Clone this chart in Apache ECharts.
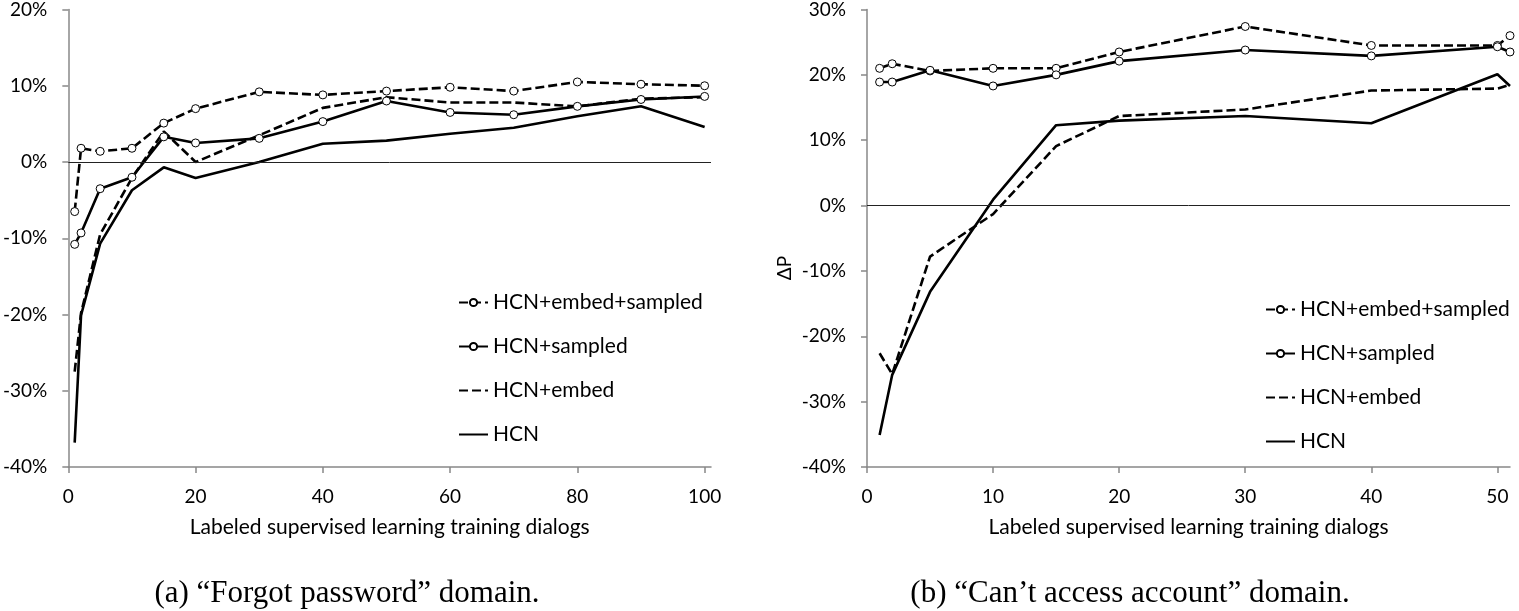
<!DOCTYPE html>
<html><head><meta charset="utf-8">
<script src="https://cdn.jsdelivr.net/npm/echarts@6/dist/echarts.min.js"></script>
<style>html,body{margin:0;padding:0;background:#fff}#c{width:1519px;height:611px}</style>
</head><body><div id="c"></div>
<script>
// Chart (a) Forgot password
const xA = [1,2,5,10,15,20,30,40,50,60,70,80,90,100];
const a_embedSampled = [-6.5,1.8,1.4,1.8,5.1,7.0,9.2,8.8,9.3,9.8,9.3,10.5,10.2,10.0];
const a_sampled      = [-10.8,-9.3,-3.5,-2.0,3.3,2.5,3.1,5.3,8.0,6.5,6.2,7.3,8.2,8.6];
const a_embed        = [-27.5,-19.8,-9.5,-2.1,4.0,0.0,3.5,7.1,8.5,7.8,7.8,7.3,8.3,8.5];
const a_hcn          = [-36.8,-20.1,-10.7,-3.7,-0.7,-2.1,0.0,2.4,2.8,3.7,4.5,6.0,7.3,4.6];
// Chart (b) Can't access account
const xB = [1,2,5,10,15,20,30,40,50,51];
const b_embedSampled = [21.0,21.7,20.6,21.0,21.0,23.5,27.4,24.5,24.5,26.0];
const b_sampled      = [18.9,18.9,20.7,18.3,20.0,22.1,23.8,22.9,24.3,23.5];
const b_embed        = [-22.6,-25.8,-7.8,-1.3,9.1,13.7,14.7,17.6,17.9,18.5];
const b_hcn          = [-35.1,-25.9,-13.2,0.9,12.3,13.0,13.7,12.6,20.1,18.3];

const names = ['HCN+embed+sampled','HCN+sampled','HCN+embed','HCN'];
const xTicksA = [0,20,40,60,80,100];
const xTicksB = [0,10,20,30,40,50];
const xName = 'Labeled supervised learning training dialogs';
const captionA = '(a) “Forgot password” domain.';
const captionB = '(b) “Can’t access account” domain.';

const FONT = 'Lato';
const pair = (xs, ys) => xs.map((x,i)=>[x, ys[i]]);
const dash = [9,4];
function mk(name, xs, ys, idx, dashed, sym){
  return {
    name, type:'line', xAxisIndex:idx, yAxisIndex:idx,
    data: pair(xs, ys),
    symbol: sym ? 'circle' : 'none', symbolSize: 8, showSymbol: sym, showAllSymbol:true,
    itemStyle:{color:'#fff', borderColor:'#000', borderWidth:1},
    lineStyle:{color:'#000', width:2.6, type: dashed ? dash : 'solid'},
    animation:false, silent:true
  };
}
function zeroLine(idx){
  return {type:'line', xAxisIndex:idx, yAxisIndex:idx, data:[], silent:true, animation:false,
    markLine:{symbol:'none', silent:true, label:{show:false},
      lineStyle:{color:'#222', width:1, type:'solid'}, data:[{yAxis:0}]}};
}
const axisLbl = {color:'#000', fontFamily:FONT, fontSize:19};
function xAx(idx, max, ticks){
  return {gridIndex:idx, type:'value', min:0, max:max,
    axisLine:{show:true, onZero:false, lineStyle:{color:'#888', width:1.5}},
    axisTick:{show:true, length:6, lineStyle:{color:'#888', width:1.5}, customValues:ticks},
    axisLabel:{...axisLbl, margin:20, customValues:ticks},
    splitLine:{show:false},
    name:xName, nameLocation:'middle', nameGap:50,
    nameTextStyle:{color:'#000', fontFamily:FONT, fontSize:21}};
}
function yAx(idx, max){
  return {gridIndex:idx, type:'value', min:-40, max:max, interval:10,
    axisLine:{show:true, lineStyle:{color:'#888', width:1.5}},
    axisTick:{show:true, length:6, lineStyle:{color:'#888', width:1.5}},
    axisLabel:{...axisLbl, margin:21, formatter:'{value}%'},
    splitLine:{show:false}};
}
function legend(left, top){
  return {left, top, orient:'vertical', itemGap:23, itemWidth:29, itemHeight:9,
    data: names.map((n,i)=> i<2 ? n : {name:n, itemStyle:{opacity:0}}),
    selectedMode:false,
    textStyle:{color:'#000', fontFamily:FONT, fontSize:21}};
}
const chart = echarts.init(document.getElementById('c'));
chart.setOption({
  animation:false,
  backgroundColor:'#fff',
  grid:[
    {left:68, right:808, top:7, bottom:144, containLabel:false},
    {left:867, right:9, top:7, bottom:144, containLabel:false}
  ],
  xAxis:[xAx(0,101,xTicksA), xAx(1,51,xTicksB)],
  yAxis:[yAx(0,20), yAx(1,30)],
  legend:[legend(453,287), legend(1260,294)],
  series:[
    mk(names[0], xA, a_embedSampled, 0, true, true),
    mk(names[1], xA, a_sampled, 0, false, true),
    mk(names[2], xA, a_embed, 0, true, false),
    mk(names[3], xA, a_hcn, 0, false, false),
    zeroLine(0),
    mk(names[0], xB, b_embedSampled, 1, true, true),
    mk(names[1], xB, b_sampled, 1, false, true),
    mk(names[2], xB, b_embed, 1, true, false),
    mk(names[3], xB, b_hcn, 1, false, false),
    zeroLine(1)
  ],
  graphic:[
    {type:'text', x:347, y:594, style:{text:captionA, fill:'#000', font:'31px "Liberation Serif"', textAlign:'center', textVerticalAlign:'middle'}},
    {type:'text', x:1130, y:594, style:{text:captionB, fill:'#000', font:'31px "Liberation Serif"', textAlign:'center', textVerticalAlign:'middle'}},
    {type:'text', x:785, y:268, rotation:Math.PI/2, style:{text:'ΔP', fill:'#000', font:'19px Lato', textAlign:'center', textVerticalAlign:'middle'}}
  ]
});
</script></body></html>
